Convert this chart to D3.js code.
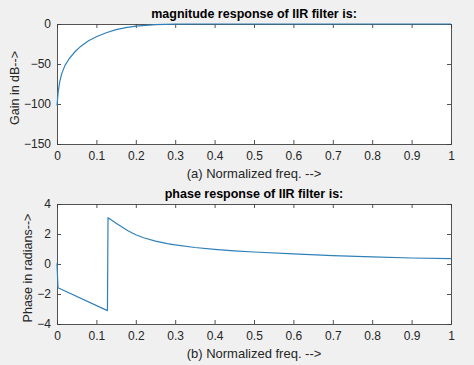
<!DOCTYPE html>
<html>
<head>
<meta charset="utf-8">
<script src="https://cdn.jsdelivr.net/npm/d3@7"></script>
<style>
  body { margin: 0; background: #f0f0f0; }
  svg { display: block; font-family: "Liberation Sans", Arial, sans-serif; }
  .tick text { font-size: 12px; fill: #262626; }
</style>
</head>
<body>
<div class="chart"></div>
<script>
// magnitude response (dB) vs normalized freq
const magFreq = [0, 0.003, 0.007, 0.012, 0.02, 0.03, 0.045, 0.06, 0.08, 0.1, 0.125, 0.15, 0.175, 0.2, 0.25, 0.3, 0.35, 0.5, 1];
const magGain = [-102, -85, -72, -62, -52, -44, -35, -28, -21, -16, -11, -7, -4.5, -2.7, -0.9, -0.2, 0, 0, 0];

// phase response (radians) vs normalized freq
const phaseFreq = [0, 0.0025, 0.128, 0.1295, 0.14, 0.15, 0.16, 0.17, 0.18, 0.19, 0.2, 0.22, 0.25, 0.28, 0.3, 0.35, 0.4, 0.45, 0.5, 0.6, 0.7, 0.8, 0.9, 1];
const phaseVal = [0.05, -1.58, -3.11, 3.09, 2.9, 2.72, 2.55, 2.38, 2.22, 2.08, 1.95, 1.75, 1.52, 1.36, 1.27, 1.1, 0.98, 0.88, 0.8, 0.67, 0.56, 0.47, 0.4, 0.36];

const xTicks = [0, 0.1, 0.2, 0.3, 0.4, 0.5, 0.6, 0.7, 0.8, 0.9, 1];
const magTicks = [-150, -100, -50, 0];
const phaseTicks = [-4, -2, 0, 2, 4];

const width = 474;
const height = 365;
const lineColor = "#3080b8";

const svg = d3.select("div.chart")
    .append("svg")
    .attr("width", width)
    .attr("height", height);

function drawPanel(opts) {
    const x = d3.scaleLinear().domain([0, 1]).range([57, 451]);
    const y = d3.scaleLinear().domain(opts.yDomain).range([opts.bottom, opts.top]);

    const g = svg.append("g");

    g.append("rect")
        .attr("x", 57).attr("y", opts.top)
        .attr("width", 394).attr("height", opts.bottom - opts.top)
        .attr("fill", "#fff");

    // ticks point inward, box on all sides
    g.append("g")
        .attr("transform", "translate(0," + opts.bottom + ")")
        .call(d3.axisBottom(x).tickValues(xTicks).tickSize(-4).tickPadding(7).tickFormat(d3.format("")));
    g.append("g")
        .attr("transform", "translate(0," + opts.top + ")")
        .call(d3.axisTop(x).tickValues(xTicks).tickSize(-4).tickFormat(""));
    g.append("g")
        .attr("transform", "translate(57,0)")
        .call(d3.axisLeft(y).tickValues(opts.yTicks).tickSize(-4).tickPadding(6));
    g.append("g")
        .attr("transform", "translate(451,0)")
        .call(d3.axisRight(y).tickValues(opts.yTicks).tickSize(-4).tickFormat(""));

    g.selectAll(".domain").attr("stroke", "#404040").attr("stroke-width", 0.9);
    g.selectAll(".tick line").attr("stroke", "#404040").attr("stroke-width", 0.9);

    const line = d3.line()
        .x(function(d) { return x(d[0]); })
        .y(function(d) { return y(d[1]); });

    g.append("path")
        .datum(d3.zip(opts.xs, opts.ys))
        .attr("fill", "none")
        .attr("stroke", lineColor)
        .attr("stroke-width", 1.2)
        .attr("stroke-linejoin", "round")
        .attr("d", line);

    g.append("text")
        .attr("x", 254).attr("y", opts.top - 6)
        .attr("text-anchor", "middle")
        .attr("font-size", "12.5px")
        .attr("font-weight", "bold")
        .attr("fill", "#000")
        .text(opts.title);

    g.append("text")
        .attr("x", 254).attr("y", opts.bottom + 34)
        .attr("text-anchor", "middle")
        .attr("font-size", "13px")
        .attr("fill", "#262626")
        .text(opts.xlabel);

    g.append("text")
        .attr("transform", "translate(" + opts.ylabelX + "," + ((opts.top + opts.bottom) / 2 + 4) + ") rotate(-90)")
        .attr("text-anchor", "middle")
        .attr("font-size", "12.5px")
        .attr("fill", "#262626")
        .text(opts.ylabel);
}

drawPanel({
    top: 24, bottom: 144,
    yDomain: [-150, 0], yTicks: magTicks,
    xs: magFreq, ys: magGain,
    title: "magnitude response of IIR filter is:",
    xlabel: "(a) Normalized freq. -->",
    ylabel: "Gain in dB-->",
    ylabelX: 19
});

drawPanel({
    top: 204, bottom: 324,
    yDomain: [-4, 4], yTicks: phaseTicks,
    xs: phaseFreq, ys: phaseVal,
    title: "phase response of IIR filter is:",
    xlabel: "(b) Normalized freq. -->",
    ylabel: "Phase in radians-->",
    ylabelX: 32
});
</script>
</body>
</html>
